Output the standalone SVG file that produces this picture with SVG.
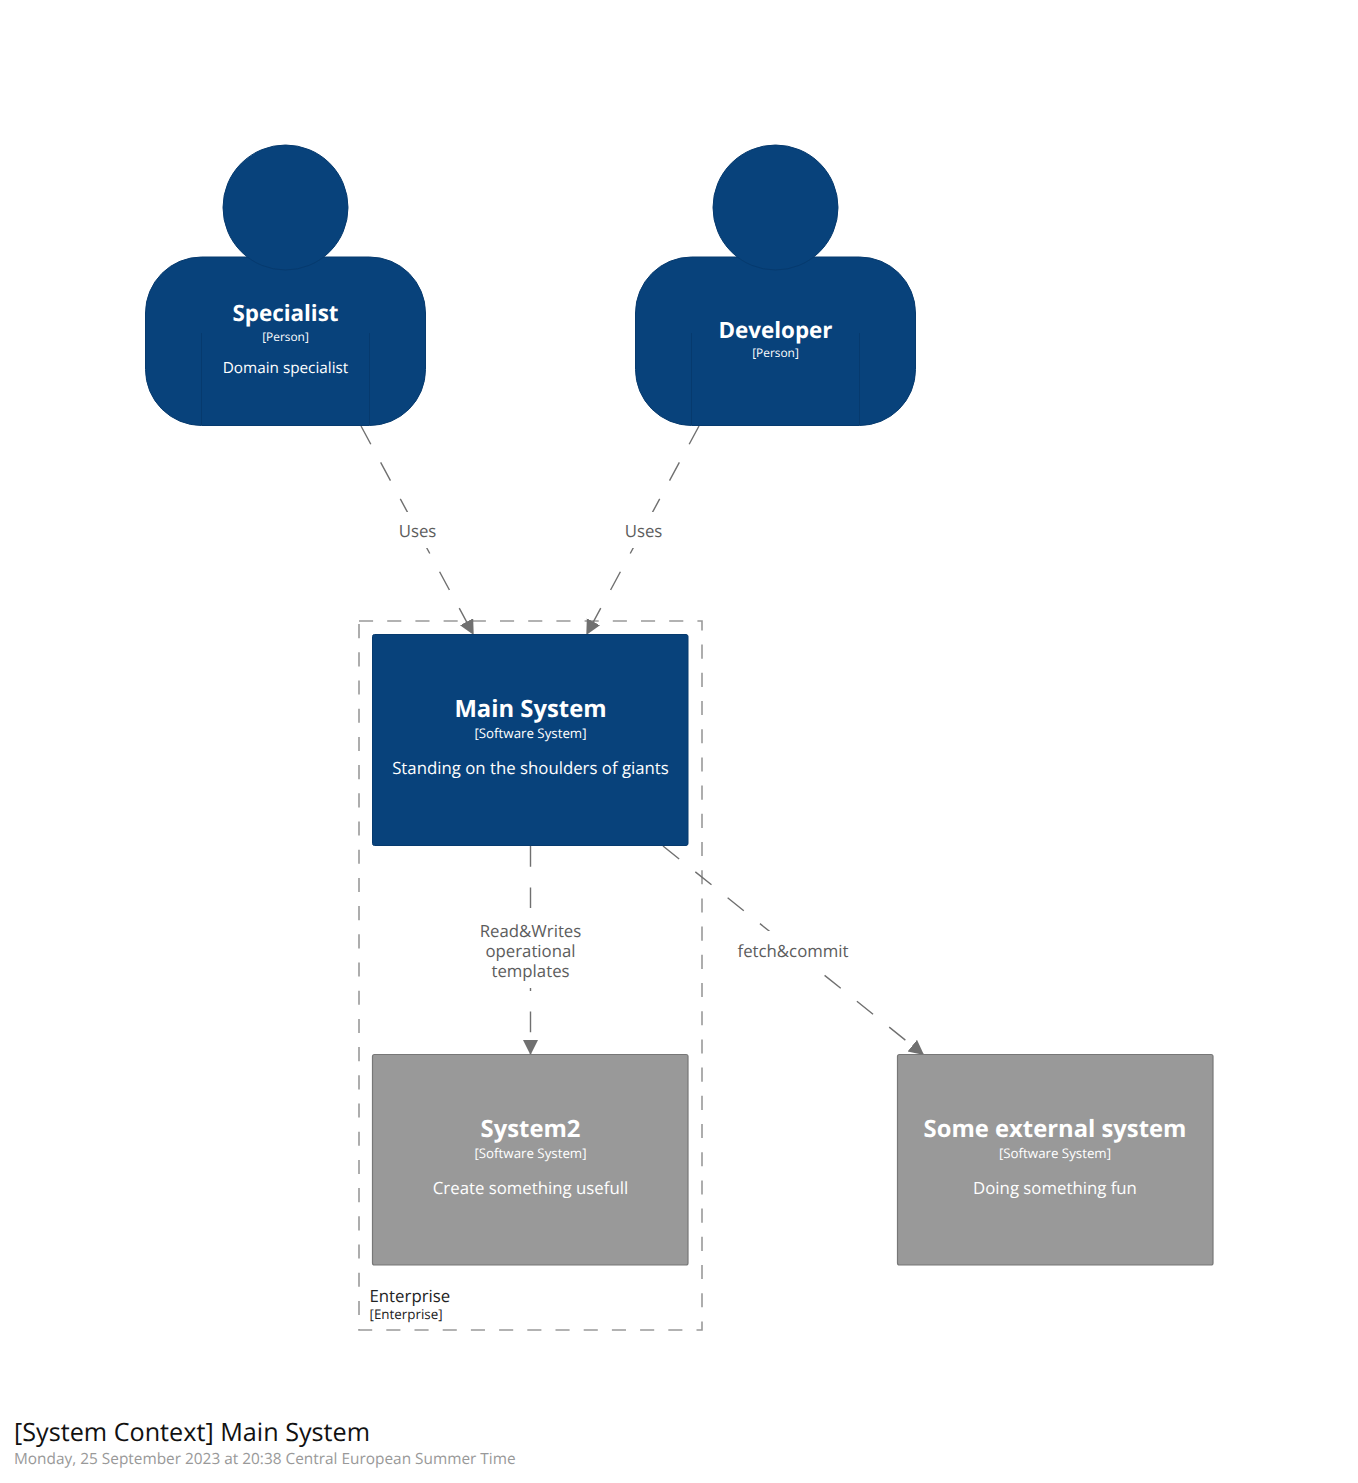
<svg xmlns="http://www.w3.org/2000/svg" width="1358" height="1483" viewBox="0 0 1358 1483">
<defs>
<marker id="arrow" markerUnits="userSpaceOnUse" markerWidth="16" markerHeight="16" refX="15" refY="7.5" orient="auto"><path d="M0,0 L15,7.5 L0,15 Z" fill="#707070"/></marker>
</defs>
<style>
text{font-family:"Open Sans","Noto Sans",sans-serif;text-anchor:middle;fill:#fff;text-rendering:geometricPrecision}
.name{font-size:23.8px;font-weight:700}
.meta{font-size:13.3px}
.desc{font-size:16.8px}
.pname{font-size:22.4px;font-weight:700}
.pmeta{font-size:11.9px}
.pdesc{font-size:15.3px}
.edge{fill:none;stroke:#707070;stroke-width:1.4;stroke-dasharray:20.7}
.lbl{fill:#fff;stroke:none}
.etext{fill:#5c5c5c;font-size:16.8px}
.blue{fill:#08427b;stroke:#063a6e;stroke-width:1}
.grey{fill:#999;stroke:#777;stroke-width:1.2}
.seam{fill:none;stroke:#063a6e;stroke-width:1}
</style>
<rect width="1358" height="1483" fill="#fff"/>
<g id="enterprise">
<rect x="359" y="621" width="343" height="709" fill="none" stroke="#999" stroke-width="1.6" stroke-dasharray="14.1"/>
<text x="369.500" y="1302" style="text-anchor:start;fill:#222;font-size:16.8px">Enterprise</text>
<text x="369.500" y="1319" style="text-anchor:start;fill:#222;font-size:13.4px">[Enterprise]</text>
</g>
<g id="connectors">
<path class="edge" d="M361,426 L473.700,635" marker-end="url(#arrow)"/>
<rect class="lbl" x="396" y="512" width="42" height="36"/>
<text class="etext" x="417.500" y="537">Uses</text>
<path class="edge" d="M699,426 L586.300,635" marker-end="url(#arrow)"/>
<rect class="lbl" x="622" y="512" width="42" height="36"/>
<text class="etext" x="643.500" y="537">Uses</text>
<path class="edge" d="M530.500,846 L530.500,1055" marker-end="url(#arrow)"/>
<rect class="lbl" x="478" y="912" width="105" height="76"/>
<text class="etext" x="530.500" y="936.500">Read&amp;Writes</text>
<text class="etext" x="530.500" y="957">operational</text>
<text class="etext" x="530.500" y="977">templates</text>
<path class="edge" d="M663,846 L924,1055" marker-end="url(#arrow)"/>
<rect class="lbl" x="736" y="931" width="114" height="40"/>
<text class="etext" x="793" y="957">fetch&amp;commit</text>
</g>
<g id="specialist">
<rect class="blue" x="145.500" y="257" width="280" height="168.500" rx="56" ry="56"/>
<path class="seam" d="M201.500,333 V425 M369.500,333 V425"/>
<circle class="blue" cx="285.500" cy="207.500" r="62.500"/>
<text class="pname" x="285.500" y="321">Specialist</text>
<text class="pmeta" x="285.500" y="340.500">[Person]</text>
<text class="pdesc" x="285.500" y="373">Domain specialist</text>
</g>
<g id="developer">
<rect class="blue" x="635.500" y="257" width="280" height="168.500" rx="56" ry="56"/>
<path class="seam" d="M691.500,333 V425 M859.500,333 V425"/>
<circle class="blue" cx="775.500" cy="207.500" r="62.500"/>
<text class="pname" x="775.500" y="338">Developer</text>
<text class="pmeta" x="775.500" y="357">[Person]</text>
</g>
<g id="main-system">
<rect class="blue" x="372.500" y="634.500" width="315.500" height="211" rx="2"/>
<text class="name" x="530.500" y="717">Main System</text>
<text class="meta" x="530.500" y="738">[Software System]</text>
<text class="desc" x="530.500" y="774">Standing on the shoulders of giants</text>
</g>
<g id="system2">
<rect class="grey" x="372.500" y="1054.500" width="315.500" height="210.500" rx="2"/>
<text class="name" x="530.500" y="1137">System2</text>
<text class="meta" x="530.500" y="1158">[Software System]</text>
<text class="desc" x="530.500" y="1194">Create something usefull</text>
</g>
<g id="external">
<rect class="grey" x="897.500" y="1054.500" width="315.500" height="210.500" rx="2"/>
<text class="name" x="1055" y="1137">Some external system</text>
<text class="meta" x="1055" y="1158">[Software System]</text>
<text class="desc" x="1055" y="1194">Doing something fun</text>
</g>
<g id="title">
<text x="14" y="1441" style="text-anchor:start;fill:#111;font-size:25.2px">[System Context] Main System</text>
<text x="14" y="1464" style="text-anchor:start;fill:#999;font-size:15.4px">Monday, 25 September 2023 at 20:38 Central European Summer Time</text>
</g>
</svg>
